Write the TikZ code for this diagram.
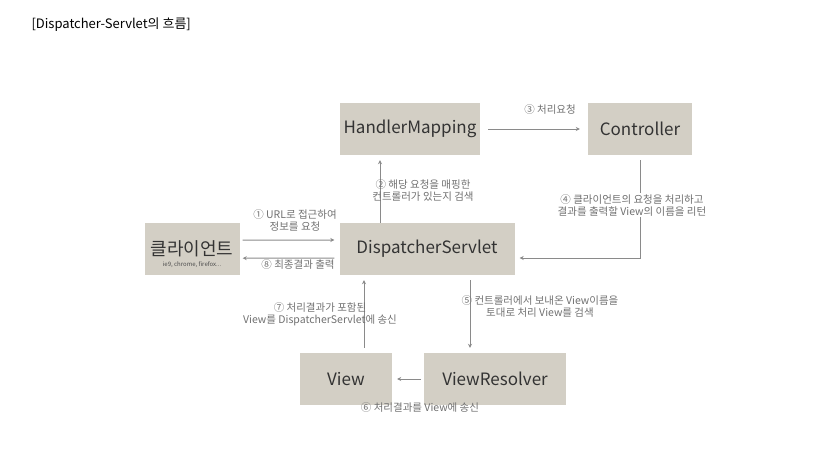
\documentclass[tikz,border=0pt]{standalone}
\usepackage{fontspec}
\setmainfont{Noto Sans CJK KR}
\usetikzlibrary{arrows.meta}
\definecolor{boxc}{HTML}{D3CFC5}
\definecolor{arr}{HTML}{8A8A8A}
\definecolor{lab}{HTML}{707070}
\tikzset{
 box/.style={fill=boxc,draw=none,minimum height=52pt,text=black!80,font=\fontsize{17}{19}\selectfont},
 con/.style={draw=arr,line width=1pt,-{Stealth[length=4pt,width=4pt]}},
 lbl/.style={text=lab,font=\fontsize{10.5}{12}\selectfont,align=center,inner sep=1pt}
}
\begin{document}
\begin{tikzpicture}[x=1pt,y=-1pt]
\useasboundingbox (0,0) rectangle (823,448);
\node[anchor=west,font=\fontsize{13}{15}\selectfont] (t) at (28,25) {[Dispatcher-Servlet의 흐름]};
\node[box,minimum width=140pt] (hm) at (410,129) {HandlerMapping};
\node[box,minimum width=104pt] (ct) at (640,129) {Controller};
\node[box,minimum width=95pt,font=\fontsize{18}{20}\selectfont,anchor=north] (cl) at (192,223) {클라이언트};
\node[font=\fontsize{6}{7}\selectfont,text=black!70] (clsub) at (192,265) {ie9, chrome, firefox...};
\node[box,minimum width=175pt] (ds) at (427,249) {DispatcherServlet};
\node[box,minimum width=92pt] (vw) at (346,379) {View};
\node[box,minimum width=142pt] (vr) at (495,379) {ViewResolver};

\draw[con] ([xshift=8pt]hm.east) -- ([xshift=-8pt]ct.west);
\node[lbl] (l3) at (550,110) {③ 처리요청};
\draw[con] ([xshift=-47pt]ds.north) -- ([xshift=-30pt,yshift=-5pt]hm.south);
\node[lbl] (l2) at (423,190) {② 해당 요청을 매핑한\\컨트롤러가 있는지 검색};
\coordinate (c4) at (640,258);
\draw[con] ([yshift=-5pt]ct.south) -- (c4) -- ([xshift=5pt,yshift=-9pt]ds.east);
\node[lbl,fill=white] (l4) at (632,205) {④ 클라이언트의 요청을 처리하고\\결과를 출력할 View의 이름을 리턴};
\draw[con] ([xshift=3pt,yshift=9pt]cl.east) -- ([xshift=-5pt,yshift=9pt]ds.west);
\node[lbl] (l1) at (295,220) {① URL로 접근하여\\정보를 요청};
\draw[con] ([xshift=-5pt,yshift=-9pt]ds.west) -- ([xshift=3pt,yshift=-9pt]cl.east);
\node[lbl] (l8) at (298,265) {⑧ 최종결과 출력};
\draw[con] ([xshift=43pt,yshift=-5pt]ds.south) -- ([xshift=-25pt,yshift=5pt]vr.north);
\node[lbl] (l5) at (540,306) {⑤ 컨트롤러에서 보내온 View이름을\\토대로 처리 View를 검색};
\draw[con] ([xshift=18pt,yshift=5pt]vw.north) -- ([xshift=-63pt,yshift=-5pt]ds.south);
\node[lbl] (l7) at (320,314) {⑦ 처리결과가 포함된\\View를 DispatcherServlet에 송신};
\draw[con] ([xshift=-3pt]vr.west) -- ([xshift=5pt]vw.east);
\node[lbl] (l6) at (420,408) {⑥ 처리결과를 View에 송신};
\end{tikzpicture}
\end{document}
